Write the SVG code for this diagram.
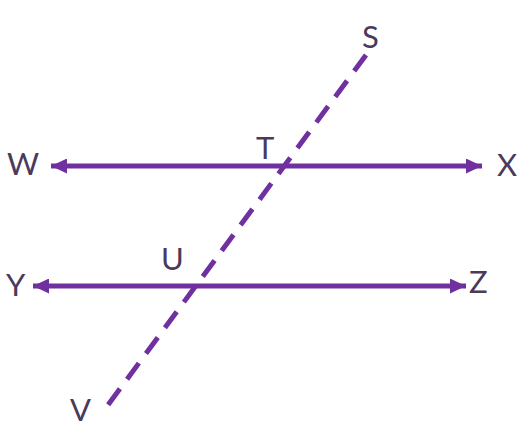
<svg xmlns="http://www.w3.org/2000/svg" width="522" height="427" viewBox="0 0 522 427">
<style>
.lbl{font-family:Lato,"Liberation Sans",sans-serif;font-size:31px;fill:#4a3a5c;}
.ln{stroke:#7030a0;stroke-width:5;fill:none;}
</style>
<defs>
<marker id="ah" viewBox="0 0 16 15" refX="16" refY="7.5" markerWidth="16" markerHeight="15" markerUnits="userSpaceOnUse" orient="auto-start-reverse">
<path d="M0,0 L16,7.5 L0,15 Z" fill="#7030a0"/>
</marker>
</defs>
<rect width="522" height="427" fill="#fff"/>
<g id="connectors">
<line class="ln" x1="51" y1="166" x2="482" y2="166" marker-start="url(#ah)" marker-end="url(#ah)"/>
<line class="ln" x1="33" y1="286" x2="466" y2="286" marker-start="url(#ah)" marker-end="url(#ah)"/>
<line class="ln" x1="366" y1="55" x2="108" y2="405" stroke-dasharray="19.9 12"/>
</g>
<g id="S"><text class="lbl" x="362" y="48">S</text></g>
<g id="T"><text class="lbl" x="256" y="159">T</text></g>
<g id="W"><text class="lbl" x="7" y="175">W</text></g>
<g id="X"><text class="lbl" x="497" y="176">X</text></g>
<g id="U"><text class="lbl" x="161" y="270">U</text></g>
<g id="Y"><text class="lbl" x="6" y="296">Y</text></g>
<g id="Z"><text class="lbl" x="469" y="293">Z</text></g>
<g id="V"><text class="lbl" x="70" y="421">V</text></g>
</svg>
